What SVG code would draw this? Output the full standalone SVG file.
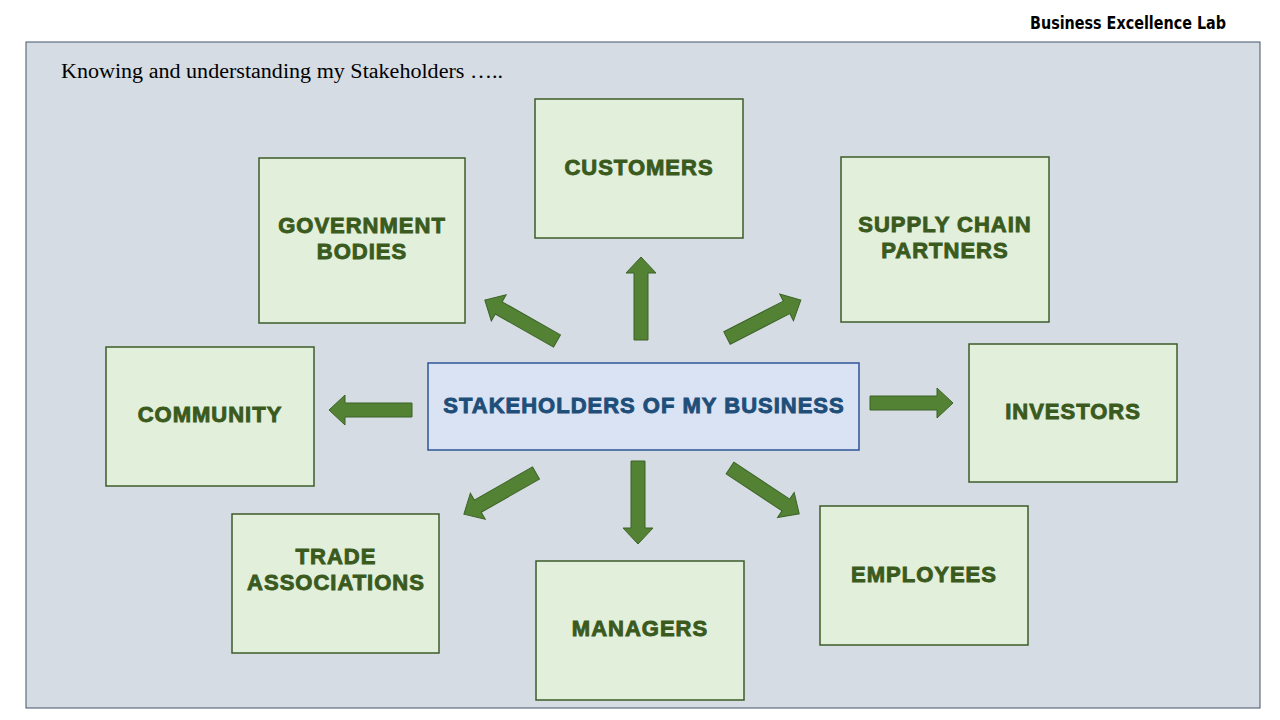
<svg xmlns="http://www.w3.org/2000/svg" width="1280" height="720" viewBox="0 0 1280 720">
<style>
.box{fill:#e2efda;stroke:#3d5c2a;stroke-width:1.5}
.t{font-family:"Liberation Sans",Arial,sans-serif;font-weight:900;font-size:22px;letter-spacing:1px;fill:#3a5a1e;text-anchor:middle;stroke:#3a5a1e;stroke-width:0.9}
.arr{fill:#548235;stroke:#3b6326;stroke-width:1}
</style>
<defs>
<path id="a" d="M0,-7 L67,-7 L67,-15 L83,0 L67,15 L67,7 L0,7 Z"/>
</defs>
<rect width="1280" height="720" fill="#ffffff"/>
<text x="1226" y="29" text-anchor="end" font-family="DejaVu Sans Condensed,DejaVu Sans,sans-serif" font-weight="bold" font-size="18" textLength="196" lengthAdjust="spacingAndGlyphs">Business Excellence Lab</text>
<rect x="26" y="42" width="1234" height="666" fill="#d6dce4" stroke="#44546a" stroke-width="1"/>
<text x="61" y="78" font-family="Liberation Serif,serif" font-size="20" fill="#000" textLength="442" lengthAdjust="spacingAndGlyphs">Knowing and understanding my Stakeholders …..</text>
<g id="connectors">
<use href="#a" class="arr" transform="translate(641,340) rotate(-90)"/>
<use href="#a" class="arr" transform="translate(557,341) rotate(-150.4)"/>
<use href="#a" class="arr" transform="translate(727,338) rotate(-27.2)"/>
<use href="#a" class="arr" transform="translate(412,410) rotate(180)"/>
<use href="#a" class="arr" transform="translate(870,403)"/>
<use href="#a" class="arr" transform="translate(536,473) rotate(150.3)"/>
<use href="#a" class="arr" transform="translate(638,461) rotate(90)"/>
<use href="#a" class="arr" transform="translate(730,468) rotate(33.5)"/>
</g>
<g id="center"><rect x="428" y="363" width="431" height="87" fill="#dae3f3" stroke="#2f5597" stroke-width="1.5"/><text class="t" x="644" y="413" style="fill:#1f4e79;stroke:#1f4e79">STAKEHOLDERS OF MY BUSINESS</text></g>
<g id="customers"><rect class="box" x="535" y="99" width="208" height="139"/><text class="t" x="639" y="175">CUSTOMERS</text></g>
<g id="government"><rect class="box" x="259" y="158" width="206" height="165"/><text class="t" x="362" y="233">GOVERNMENT</text><text class="t" x="362" y="259">BODIES</text></g>
<g id="supply"><rect class="box" x="841" y="157" width="208" height="165"/><text class="t" x="945" y="232">SUPPLY CHAIN</text><text class="t" x="945" y="258">PARTNERS</text></g>
<g id="community"><rect class="box" x="106" y="347" width="208" height="139"/><text class="t" x="210" y="422">COMMUNITY</text></g>
<g id="investors"><rect class="box" x="969" y="344" width="208" height="138"/><text class="t" x="1073" y="419">INVESTORS</text></g>
<g id="trade"><rect class="box" x="232" y="514" width="207" height="139"/><text class="t" x="336" y="564">TRADE</text><text class="t" x="336" y="590">ASSOCIATIONS</text></g>
<g id="managers"><rect class="box" x="536" y="561" width="208" height="139"/><text class="t" x="640" y="636">MANAGERS</text></g>
<g id="employees"><rect class="box" x="820" y="506" width="208" height="139"/><text class="t" x="924" y="582">EMPLOYEES</text></g>
</svg>
